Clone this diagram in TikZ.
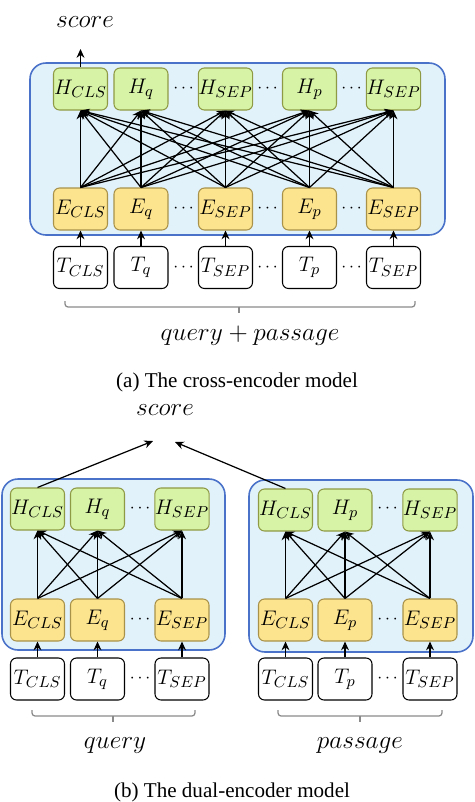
\documentclass[tikz,border=0pt]{standalone}
\usepackage{fontspec}
\usetikzlibrary{arrows.meta}
\usepackage{xcolor}
\newfontfamily\capfont{Liberation Serif}
\definecolor{colorboxfill}{HTML}{E2F2FB}
\definecolor{colorboxdraw}{HTML}{4A72C8}
\definecolor{colorhfill}{HTML}{D7F3A6}
\definecolor{colorhdraw}{HTML}{8F9A45}
\definecolor{colorefill}{HTML}{FCE38D}
\definecolor{coloredraw}{HTML}{A8924A}
\definecolor{colorbrace}{HTML}{8A8A8A}

\begin{document}
\begin{tikzpicture}
    [x=0.02cm, y=-0.02cm,
     >={Stealth[length=5pt,width=4.5pt]},  % Uniform arrow style
     hnode/.style={shape=rectangle, fill=colorhfill, draw=colorhdraw, minimum width=1.08cm, minimum height=0.84cm, rounded corners=0.12cm, line width=0.6pt, inner sep=0pt, font=\fontsize{13}{15}\selectfont},
     enode/.style={hnode, fill=colorefill, draw=coloredraw},
     tnode/.style={hnode, fill=white, draw=black},
     encbox/.style={fill=colorboxfill, draw=colorboxdraw, line width=0.9pt, rounded corners=0.32cm},
     link/.style={->, line width=0.7pt},
     brace/.style={draw=colorbrace, line width=0.7pt, rounded corners=0.06cm},
     bigtext/.style={font=\fontsize{15}{18}\selectfont},
     captext/.style={font=\capfont\fontsize{12}{14}\selectfont},
    ]
\useasboundingbox (0,0) rectangle (474,802);

% (a) cross-encoder
\draw[encbox] (30,63) rectangle (445,235);

\node[hnode] (a_h1) at (80.5,89) {$H_{CLS}$};
\node[hnode] (a_h2) at (141,89) {$H_q$};
\node[hnode] (a_h3) at (225.5,89) {$H_{SEP}$};
\node[hnode] (a_h4) at (309.5,89) {$H_p$};
\node[hnode] (a_h5) at (393.5,89) {$H_{SEP}$};
\node[enode] (a_e1) at (80.5,209) {$E_{CLS}$};
\node[enode] (a_e2) at (141,209) {$E_q$};
\node[enode] (a_e3) at (225.5,209) {$E_{SEP}$};
\node[enode] (a_e4) at (309.5,209) {$E_p$};
\node[enode] (a_e5) at (393.5,209) {$E_{SEP}$};
\node[tnode] (a_t1) at (80.5,267.5) {$T_{CLS}$};
\node[tnode] (a_t2) at (141,267.5) {$T_q$};
\node[tnode] (a_t3) at (225.5,267.5) {$T_{SEP}$};
\node[tnode] (a_t4) at (309.5,267.5) {$T_p$};
\node[tnode] (a_t5) at (393.5,267.5) {$T_{SEP}$};

\foreach \y in {89,209,267.5}
  \foreach \x in {183.5,267.5,351.5}
    \node at (\x,\y) {$\cdots$};

\foreach \i in {1,...,5} {
  \draw[link] (a_t\i.north) -- (a_e\i.south);
  \foreach \j in {1,...,5}
    \draw[link] (a_e\i.north) -- (a_h\j.south);
}

\node[bigtext] (a_score) at (85,22) {$score$};
\coordinate (a_out) at (80.5,49);
\draw[link] (a_h1.north) -- (a_out);

\draw[brace] (65,301) -- (65,307) -- (415,307) -- (415,301);
\draw[brace, rounded corners=0pt] (239,307) -- (239,313);
\node[bigtext] (a_input) at (250,336) {$query + passage$};
\node[captext] (a_caption) at (237,382) {(a) The cross-encoder model};

% (b) dual-encoder
\draw[encbox] (2,479) rectangle (225,650);
\draw[encbox] (249,480) rectangle (473,652);

\node[hnode] (q_h1) at (37.5,509) {$H_{CLS}$};
\node[hnode] (q_h2) at (97.5,509) {$H_q$};
\node[hnode] (q_h3) at (182,509) {$H_{SEP}$};
\node[enode] (q_e1) at (37.5,620) {$E_{CLS}$};
\node[enode] (q_e2) at (97.5,620) {$E_q$};
\node[enode] (q_e3) at (182,620) {$E_{SEP}$};
\node[tnode] (q_t1) at (37.5,679) {$T_{CLS}$};
\node[tnode] (q_t2) at (97.5,679) {$T_q$};
\node[tnode] (q_t3) at (182,679) {$T_{SEP}$};

\node[hnode] (p_h1) at (285.5,510) {$H_{CLS}$};
\node[hnode] (p_h2) at (345,510) {$H_p$};
\node[hnode] (p_h3) at (430,510) {$H_{SEP}$};
\node[enode] (p_e1) at (285.5,620) {$E_{CLS}$};
\node[enode] (p_e2) at (345,620) {$E_p$};
\node[enode] (p_e3) at (430,620) {$E_{SEP}$};
\node[tnode] (p_t1) at (285.5,679) {$T_{CLS}$};
\node[tnode] (p_t2) at (345,679) {$T_p$};
\node[tnode] (p_t3) at (430,679) {$T_{SEP}$};

\foreach \y in {509,620,679} {
  \node at (140,\y) {$\cdots$};
  \node at (387.5,\y) {$\cdots$};
}

\foreach \s in {q,p}
  \foreach \i in {1,2,3} {
    \draw[link] (\s_t\i.north) -- (\s_e\i.south);
    \foreach \j in {1,2,3}
      \draw[link] (\s_e\i.north) -- (\s_h\j.south);
  }

\node[bigtext] (b_score) at (165,410) {$score$};
\coordinate (b_in_q) at (153,441);
\coordinate (b_in_p) at (175,442);
\draw[link] (q_h1.north) -- (b_in_q);
\draw[link] (p_h1.north) -- (b_in_p);

\draw[brace] (32,710) -- (32,716) -- (195,716) -- (195,710);
\draw[brace, rounded corners=0pt] (113,716) -- (113,722);
\draw[brace] (278,710) -- (278,716) -- (442,716) -- (442,710);
\draw[brace, rounded corners=0pt] (360,716) -- (360,722);
\node[bigtext] (q_input) at (115,746) {$query$};
\node[bigtext] (p_input) at (360,746) {$passage$};
\node[captext] (b_caption) at (232,792) {(b) The dual-encoder model};

\end{tikzpicture}
\end{document}
